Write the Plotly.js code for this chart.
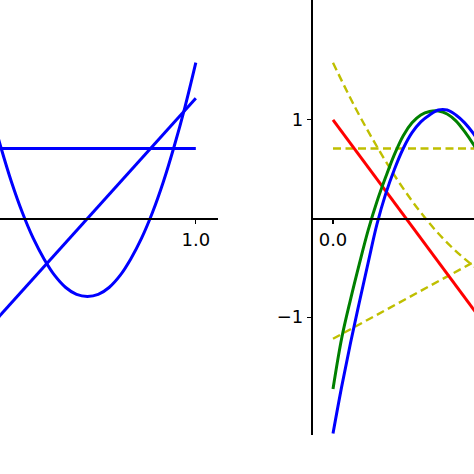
<!DOCTYPE html>
<html>
<head>
<meta charset="utf-8">
<script src="https://cdn.plot.ly/plotly-3.0.1.min.js"></script>
<style>
  html, body { margin: 0; padding: 0; background: #fff; }
  #chart { width: 474px; height: 474px; }
</style>
</head>
<body>
<div id="chart"></div>
<script>
// Left panel: three basis curves on [-1, 1]
const leftLineX = [-1.0, 1.0];
const leftFlat = [0.71, 0.71];
const leftSlope = [-1.22, 1.22];
const leftCurveX = [-1.0, -0.9, -0.8, -0.7, -0.6, -0.5, -0.4, -0.3, -0.2, -0.1, 0.0,
                    0.1, 0.2, 0.3, 0.4, 0.5, 0.6, 0.7, 0.8, 0.9, 1.0];
const leftCurve = [1.58, 1.13, 0.73, 0.37, 0.06, -0.20, -0.41, -0.58, -0.70, -0.77, -0.79,
                   -0.77, -0.70, -0.58, -0.41, -0.20, 0.06, 0.37, 0.73, 1.13, 1.58];

// Right panel: dashed basis, red line, green and blue curves
const dashLineX = [0.0, 0.35];
const dashFlat = [0.71, 0.71];
const dashSlope = [-1.22, -0.37];
const dashCurveX = [0.0, 0.05, 0.10, 0.15, 0.20, 0.25, 0.30, 0.35];
const dashCurve = [1.58, 1.13, 0.73, 0.37, 0.06, -0.20, -0.41, -0.58];
const redX = [0.0, 0.35];
const redY = [1.0, -1.10];
const fitX = [0.0, 0.02, 0.04, 0.06, 0.08, 0.10, 0.12, 0.14, 0.16,
              0.18, 0.20, 0.22, 0.24, 0.26, 0.28, 0.30, 0.32, 0.34];
const greenY = [-1.73, -1.21, -0.82, -0.46, -0.12, 0.17, 0.42, 0.65, 0.84,
                0.97, 1.05, 1.085, 1.09, 1.06, 0.99, 0.88, 0.75, 0.60];
const blueY = [-2.18, -1.70, -1.26, -0.85, -0.45, -0.06, 0.25, 0.50, 0.71,
               0.87, 0.98, 1.05, 1.10, 1.10, 1.05, 0.97, 0.86, 0.72];

const W = 474, H = 474;
const BLUE = "#0000ff", GREEN = "#008000", RED = "#ff0000", OLIVE = "#bfbf00";
const FONT = { family: "DejaVu Sans, sans-serif", size: 18, color: "#000" };

// shared vertical scale: y=0 sits at 218.5px, 98.6 px per unit
const yRange = [-2.196, 2.216];
const yDomain = [(H - 435) / H, 1];
const zeroPos = yDomain[0] + (0 - yRange[0]) / (yRange[1] - yRange[0]) * (yDomain[1] - yDomain[0]);

const solid = (x, y, color, xa, ya, shape) => ({
  x, y, xaxis: xa, yaxis: ya, mode: "lines", hoverinfo: "skip",
  line: { color, width: 3, shape: shape || "linear", smoothing: 1 },
});
const dashed = (x, y, shape) => ({
  x, y, xaxis: "x2", yaxis: "y2", mode: "lines", hoverinfo: "skip",
  line: { color: OLIVE, width: 2.4, dash: "8px,4.5px", shape: shape || "linear", smoothing: 1 },
});

const traces = [
  solid(leftLineX, leftFlat, BLUE, "x", "y"),
  solid(leftLineX, leftSlope, BLUE, "x", "y"),
  solid(leftCurveX, leftCurve, BLUE, "x", "y", "spline"),
  dashed(dashLineX, dashFlat),
  dashed(dashLineX, dashSlope),
  dashed(dashCurveX, dashCurve, "spline"),
  solid(redX, redY, RED, "x2", "y2"),
  solid(fitX, greenY, GREEN, "x2", "y2", "spline"),
  solid(fitX, blueY, BLUE, "x2", "y2", "spline"),
];

const axisBase = {
  showgrid: false, zeroline: false, showline: true, linecolor: "#000", linewidth: 1.1,
  ticks: "outside", ticklen: 4.5, tickwidth: 1.1, tickcolor: "#000",
  tickfont: FONT, fixedrange: true,
};

const layout = {
  width: W, height: H,
  margin: { l: 0, r: 0, t: 0, b: 0, pad: 0 },
  paper_bgcolor: "#fff", plot_bgcolor: "rgba(0,0,0,0)",
  showlegend: false,
  xaxis: Object.assign({}, axisBase, {
    domain: [0, 217.5 / W], range: [-0.806, 1.2],
    anchor: "free", position: zeroPos,
    tickvals: [-1, 1], ticktext: ["−1.0", "1.0"],
  }),
  yaxis: { domain: yDomain, range: yRange, visible: false, fixedrange: true },
  xaxis2: Object.assign({}, axisBase, {
    domain: [312.5 / W, 1], range: [-0.0467, 0.3212],
    anchor: "free", position: zeroPos,
    tickvals: [0], ticktext: ["0.0"],
  }),
  yaxis2: Object.assign({}, axisBase, {
    domain: yDomain, range: yRange, anchor: "x2",
    tickvals: [-1, 1], ticktext: ["−1", "1"],
  }),
};

Plotly.newPlot("chart", traces, layout, { displayModeBar: false, staticPlot: true });
</script>
</body>
</html>
